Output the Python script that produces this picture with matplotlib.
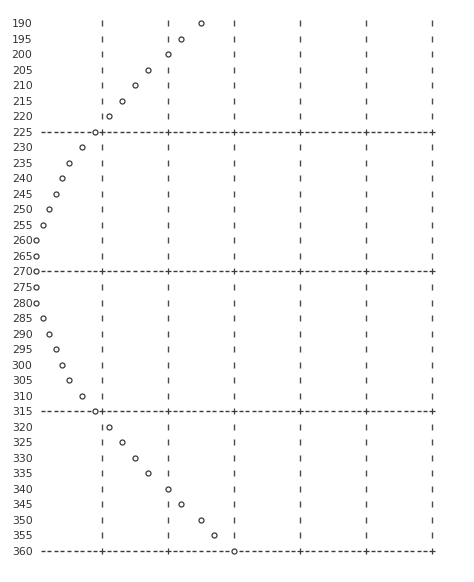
import numpy as np
import matplotlib.pyplot as plt

# Data: angle label per row and character column of the point
angles = [190, 195, 200, 205, 210, 215, 220, 225, 230, 235, 240, 245,
          250, 255, 260, 265, 270, 275, 280, 285, 290, 295, 300, 305,
          310, 315, 320, 325, 330, 335, 340, 345, 350, 355, 360]
positions = [25, 22, 20, 17, 15, 13, 11, 9, 7, 5, 4, 3,
             2, 1, 0, 0, 0, 0, 0, 1, 2, 3, 4, 5,
             7, 9, 11, 13, 15, 17, 20, 22, 25, 27, 30]
grid_rows = [225, 270, 315, 360]
grid_cols = [10, 20, 30, 40, 50, 60]
n_cols = 60

ink = '#3a3a3a'
point_at = dict(zip(angles, positions))

fig = plt.figure(figsize=(4.74, 5.82), dpi=100)
ax = fig.add_axes([36 / 474, 31 / 582, 396 / 474, 528 / 582])

# vertical grid: one short dash per row, skipped where a point sits
vx, vy = [], []
for a in angles:
    if a in grid_rows:
        continue
    for c in grid_cols:
        if point_at[a] != c:
            vx.append(c)
            vy.append(a)
ax.scatter(vx, vy, marker='|', s=24, color='#4a4a4a', linewidths=1.0, clip_on=False)

# horizontal grid rows: dashes and plus signs
hx, hy, px, py = [], [], [], []
for a in grid_rows:
    for c in range(1, n_cols + 1):
        if point_at[a] == c:
            continue
        if c in grid_cols:
            px.append(c)
            py.append(a)
        else:
            hx.append(c)
            hy.append(a)
ax.scatter(hx, hy, marker='_', s=9, color=ink, linewidths=1.0, clip_on=False)
ax.scatter(px, py, marker='+', s=14, color=ink, linewidths=0.9, clip_on=False)

# points
ax.scatter(positions, angles, marker='o', s=13, facecolors='white',
           edgecolors=ink, linewidths=0.9, clip_on=False, zorder=3)

ax.set_xlim(0, n_cols)
ax.set_ylim(360, 190)
ax.set_yticks(angles)
ax.set_yticklabels([str(a) for a in angles], fontsize=7.8, color='#333333')
ax.tick_params(axis='y', length=0, pad=2.5)
ax.set_xticks([])
for s in ax.spines.values():
    s.set_visible(False)

plt.savefig('out.png', dpi=100)
